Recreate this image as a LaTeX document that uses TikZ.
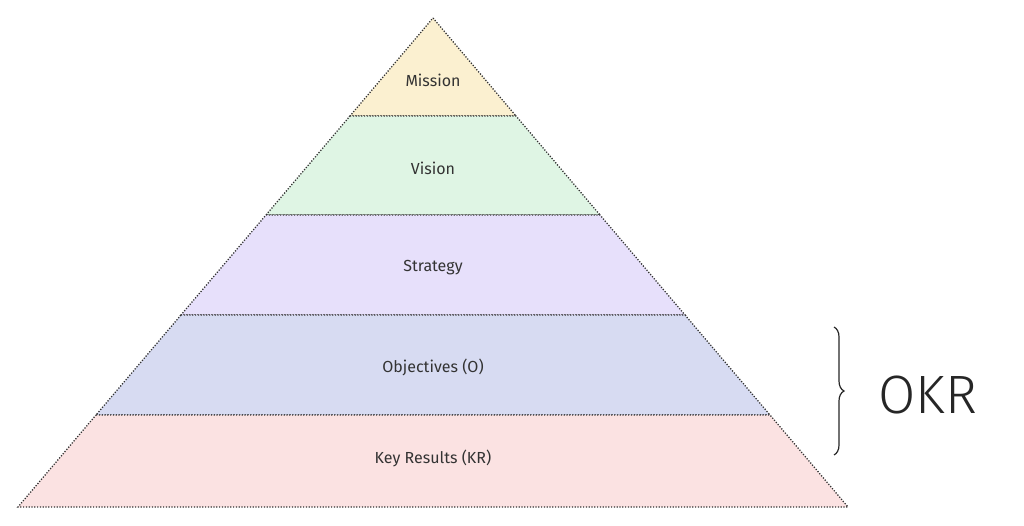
\documentclass[tikz,border=0pt]{standalone}
\usepackage{fontspec}
\setmainfont{Fira Sans}
\newfontfamily\lightfont{Fira Sans Light}
\usetikzlibrary{decorations.pathreplacing}
\definecolor{cm}{HTML}{FBF0D0}
\definecolor{cv}{HTML}{DFF5E4}
\definecolor{cs}{HTML}{E7E0FB}
\definecolor{co}{HTML}{D7DBF2}
\definecolor{ck}{HTML}{FBE2E2}
\tikzset{layer/.style={draw=black!80, line width=1.3pt, dash pattern=on 1.2pt off 1.6pt},
  lbl/.style={font=\fontsize{16}{18}\selectfont, text=black!80}}
\begin{document}
\begin{tikzpicture}[x=1pt,y=-1pt]
\useasboundingbox (0,0) rectangle (1024,525);
\filldraw[layer,fill=cm] (433,18) -- (516,116) -- (350,116) -- cycle;
\filldraw[layer,fill=cv] (350,116) -- (516,116) -- (600,215) -- (266,215) -- cycle;
\filldraw[layer,fill=cs] (266,215) -- (600,215) -- (685,315) -- (181,315) -- cycle;
\filldraw[layer,fill=co] (181,315) -- (685,315) -- (770,415) -- (96,415) -- cycle;
\filldraw[layer,fill=ck] (96,415) -- (770,415) -- (848,507) -- (18,507) -- cycle;
\node[lbl] (m) at (433,80) {Mission};
\node[lbl] (v) at (433,168) {Vision};
\node[lbl] (s) at (433,268) {Strategy};
\node[lbl] (o) at (433,367) {Objectives (O)};
\node[lbl] (k) at (433,458) {Key Results (KR)};
\coordinate (b1) at (834,327);
\coordinate (b2) at (834,455);
\draw[black!85, line width=1.2pt, decorate, decoration={brace, amplitude=10pt}] (b1) -- (b2);
\node[font=\lightfont\fontsize{54}{60}\selectfont, text=black!85] (okr) at (928,395) {OKR};
\end{tikzpicture}
\end{document}
